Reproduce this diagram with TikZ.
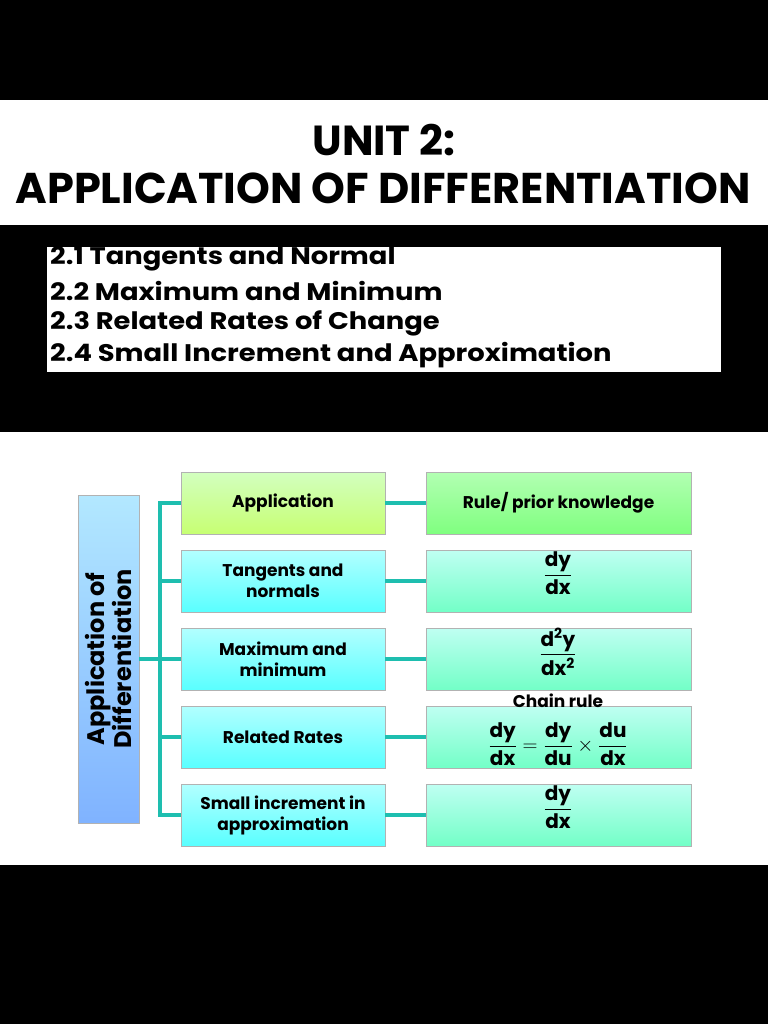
\documentclass[tikz,border=0pt]{standalone}
\usepackage{fontspec}
\setmainfont{Poppins}[BoldFont={* Bold}]
\usepackage{amsmath}
\definecolor{conncol}{RGB}{30,190,175}
\begin{document}
\begin{tikzpicture}[x=1pt,y=-1pt,
  conn/.style={draw=conncol, line width=3.2pt},
  box/.style={draw=gray!60, line width=0.6pt, minimum width=204pt, minimum height=62pt, align=center, inner sep=2pt, font=\bfseries\fontsize{17}{21}\selectfont},
  rbox/.style={box, minimum width=265pt},
  cyanbox/.style={top color=cyan!30, bottom color=cyan!65},
  mintbox/.style={top color=green!20!cyan!25, bottom color=green!40!cyan!55},
  mth/.style={font=\bfseries\fontsize{20}{22}\selectfont, inner sep=0pt},
  lline/.style={anchor=west, inner sep=0pt, font=\bfseries\fontsize{24}{26}\selectfont},
]
\useasboundingbox (0,0) rectangle (768,1024);
\fill[black] (0,0) rectangle (768,1024);
\fill[white] (0,100) rectangle (768,225);
\fill[white] (47,247) rectangle (721,372);
\fill[white] (0,432) rectangle (768,865);
\node[font=\bfseries\fontsize{42}{46}\selectfont] (t1) at (384,140) {UNIT 2:};
\node (t2) at (383,188) {\resizebox{735pt}{!}{\bfseries\fontsize{36}{40}\selectfont APPLICATION OF DIFFERENTIATION}};
\node[lline] (l1) at (50,259) {\scalebox{1.14}[1]{2.1 Tangents and Normal}};
\node[lline] (l2) at (50,291) {\scalebox{1.14}[1]{2.2 Maximum and Minimum}};
\node[lline] (l3) at (50,323) {\scalebox{1.14}[1]{2.3 Related Rates of Change}};
\node[lline] (l4) at (50,355) {\scalebox{1.14}[1]{2.4 Small Increment and Approximation}};
% diagram
\node[draw=gray!60, top color=blue!30!cyan!30, bottom color=blue!60!cyan!50, minimum width=61pt, minimum height=328pt, inner sep=0pt] (L) at (108.5,659) {};
\node[rotate=90, align=center, font=\bfseries\fontsize{24}{25}\selectfont] (Lt) at (L.center) {Application of\\Differentiation};
\node[box, top color=yellow!30!green!25, bottom color=yellow!60!green!55] (a1) at (283,503) {Application};
\node[box, cyanbox] (a2) at (283,581) {Tangents and\\normals};
\node[box, cyanbox] (a3) at (283,659) {Maximum and\\minimum};
\node[box, cyanbox] (a4) at (283,737) {Related Rates};
\node[box, cyanbox] (a5) at (283,815) {Small increment in\\approximation};
\node[rbox, top color=green!30, bottom color=green!50] (b1) at (558.5,503) {Rule/ prior knowledge};
\node[rbox, mintbox] (b2) at (558.5,581) {};
\node[rbox, mintbox] (b3) at (558.5,659) {};
\node[rbox, mintbox] (b4) at (558.5,737) {};
\node[rbox, mintbox] (b5) at (558.5,815) {};
\node[mth] (m2) at (558,573) {$\dfrac{\text{dy}}{\text{dx}}$};
\node[mth] (m3) at (558,652) {$\dfrac{\text{d\textsuperscript{2}y}}{\text{dx\textsuperscript{2}}}$};
\node[mth] (m4) at (558,744) {$\dfrac{\text{dy}}{\text{dx}}=\dfrac{\text{dy}}{\text{du}}\times\dfrac{\text{du}}{\text{dx}}$};
\node[mth] (m5) at (558,807) {$\dfrac{\text{dy}}{\text{dx}}$};
\node[font=\bfseries\fontsize{17}{18}\selectfont, inner sep=0pt] (cr) at (558,701) {Chain rule};
\coordinate (sp) at (160,659);
\draw[conn] (L.east) -- (sp);
\draw[conn] (a1.west) -| (sp) |- (a5.west);
\foreach \i in {2,3,4} \draw[conn] (sp |- a\i.west) -- (a\i.west);
\foreach \i in {1,...,5} \draw[conn] (a\i.east) -- (b\i.west);
\end{tikzpicture}
\end{document}
